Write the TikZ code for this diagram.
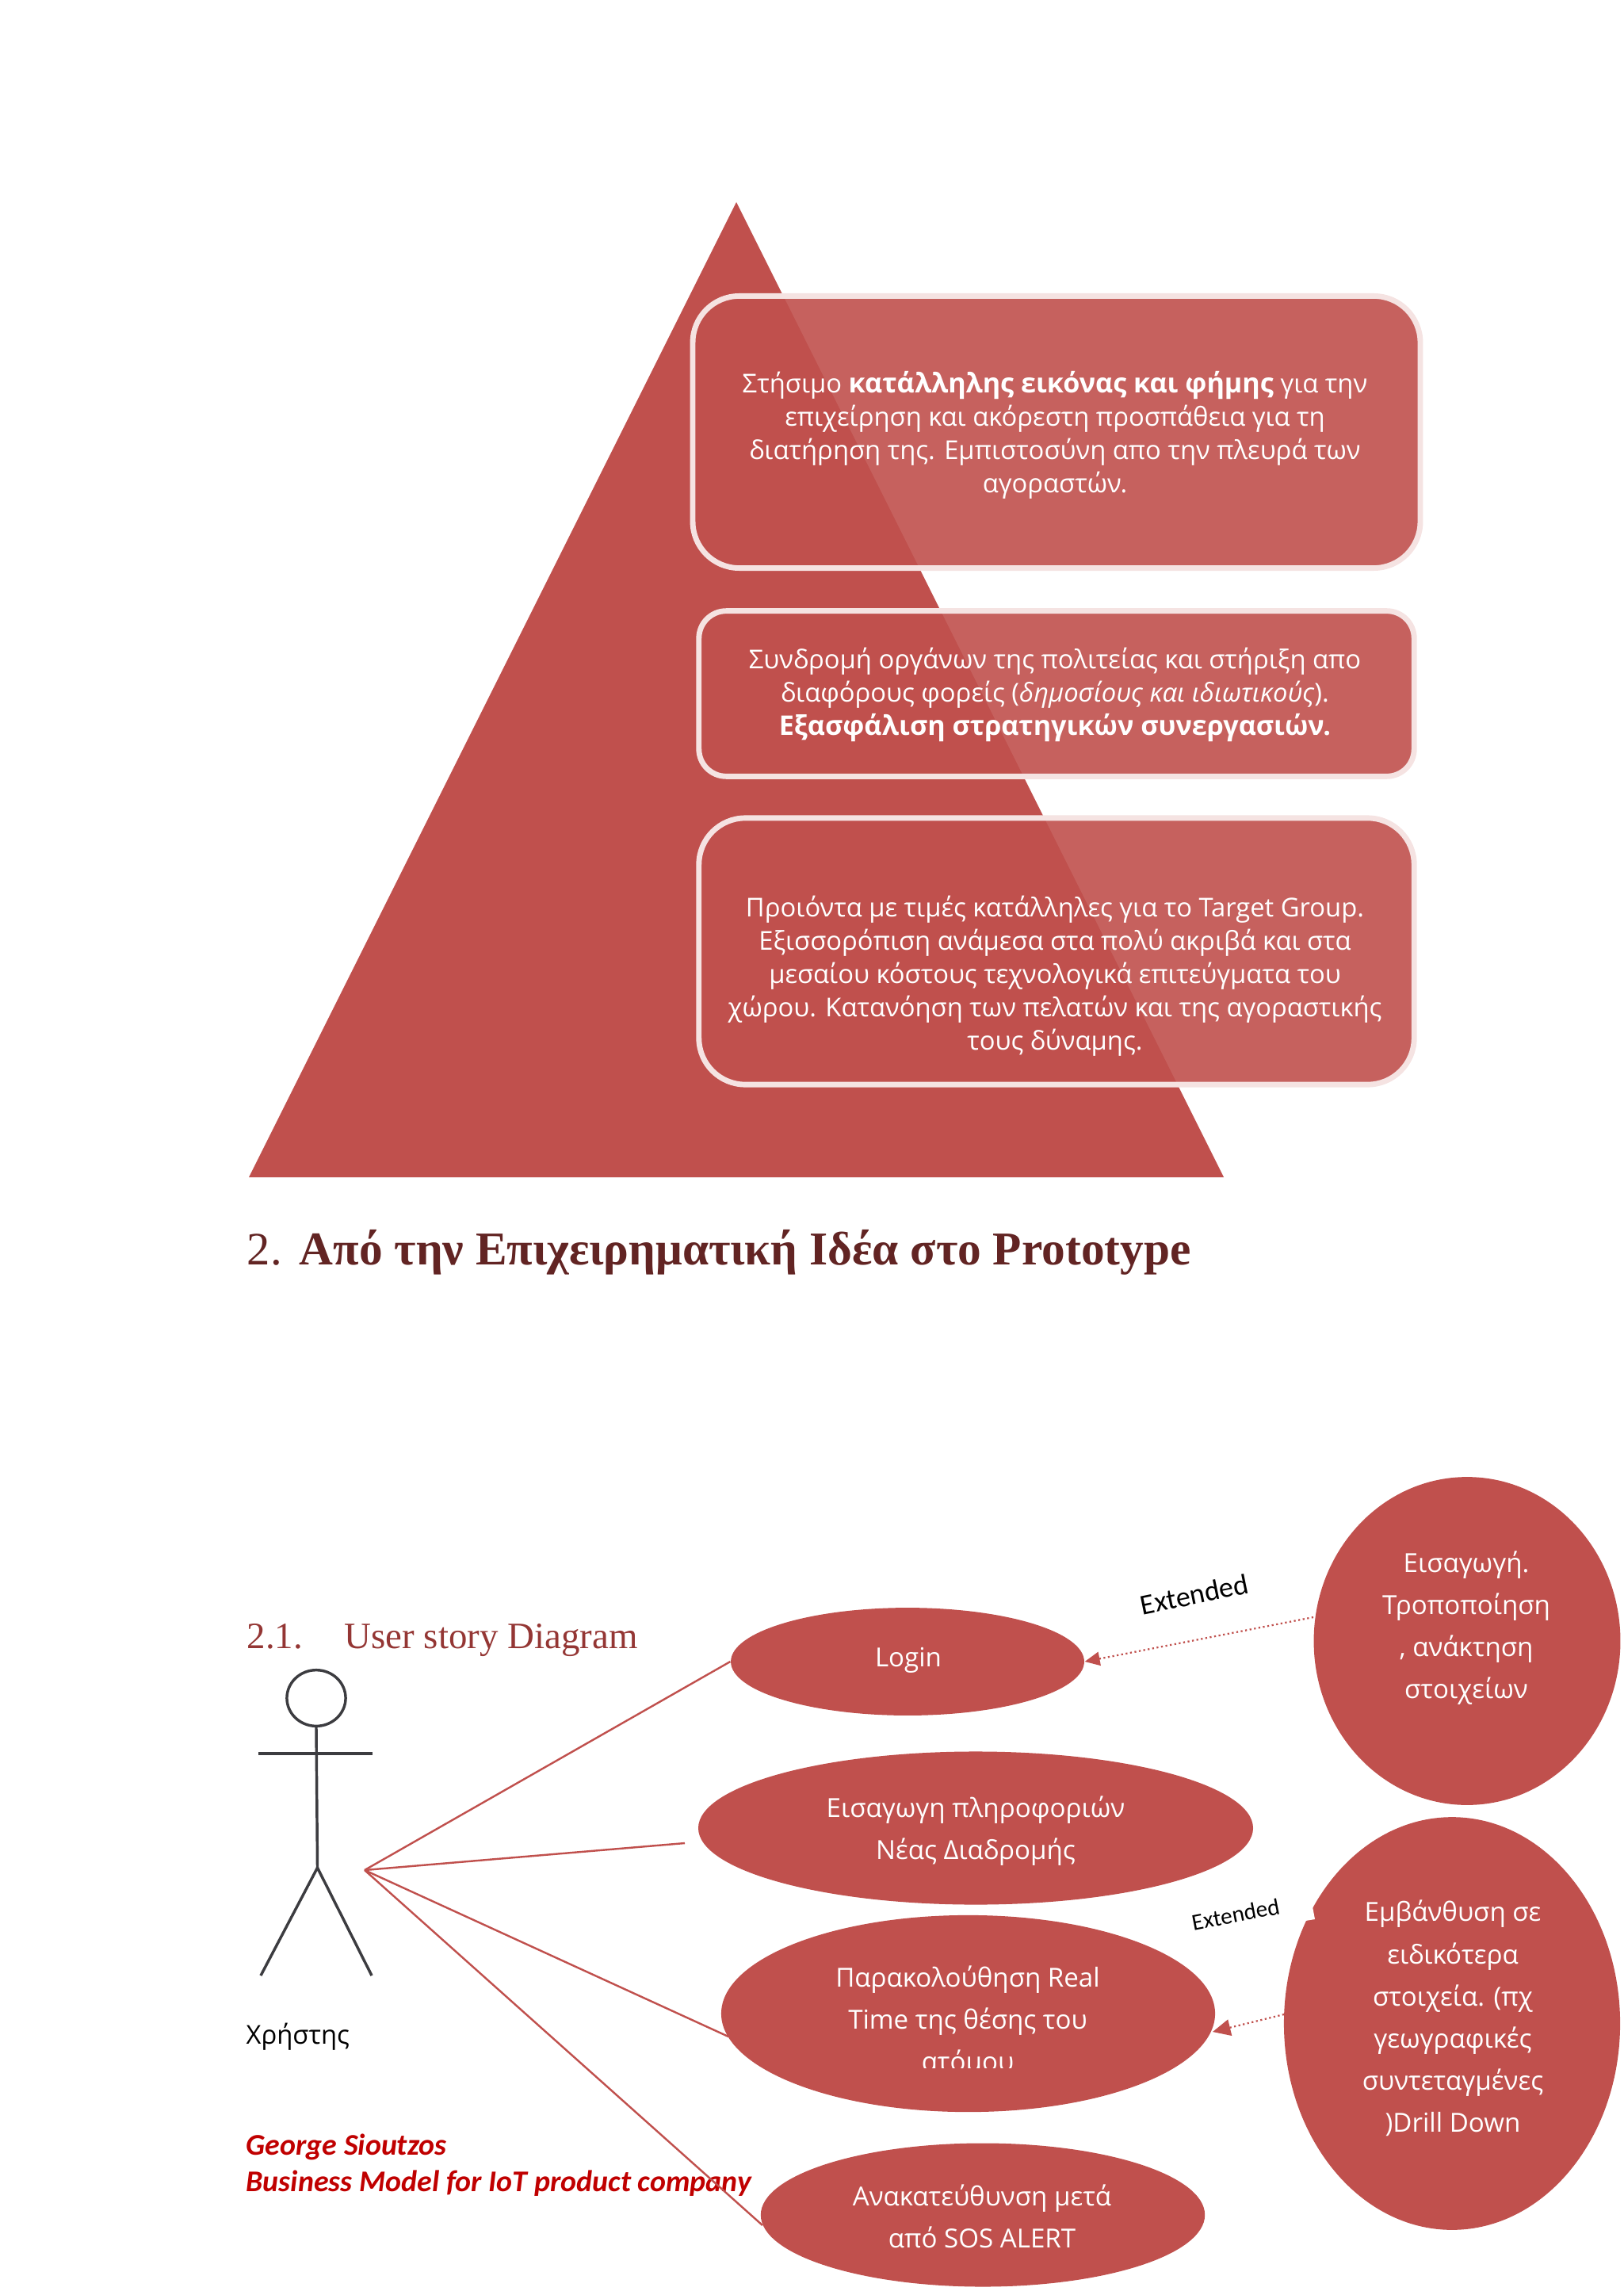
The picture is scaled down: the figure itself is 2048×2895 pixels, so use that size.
\documentclass[tikz,border=0pt]{standalone}
\usepackage{fontspec}
\setmainfont{Open Sans}
\newfontfamily\headfont{Liberation Serif}
\newfontfamily\labelfont{Carlito}
\usetikzlibrary{shapes.geometric,arrows.meta}
\definecolor{brick}{HTML}{C0504D}
\definecolor{pale}{HTML}{F5E3E2}
\definecolor{headdark}{HTML}{622423}
\definecolor{headmid}{HTML}{943634}
\definecolor{signred}{HTML}{C00000}
\definecolor{figure}{HTML}{3C3C40}
\newcommand{\panelbold}[1]{{\fontsize{9.9}{12.2}\selectfont\textbf{#1}}}
\tikzset{
  x=0.29pt,y=-0.29pt,
  panel/.style={rectangle,draw=pale,line width=2pt,fill=brick,fill opacity=.9,draw opacity=1,inner sep=0pt},
  paneltext/.style={text=white,align=center,font=\fontsize{9.5}{12.2}\selectfont,inner sep=0pt},
  blob/.style={ellipse,fill=brick,inner sep=0pt,text=white},
  blobtext/.style={text=white,align=center,font=\fontsize{9.6}{15.4}\selectfont,inner sep=0pt},
  fan/.style={draw=brick,line width=.7pt},
  extend/.style={draw=brick,line width=.65pt,densely dotted,-{Triangle[length=5.5pt,width=5pt,fill=brick]}},
  extendbig/.style={draw=brick,line width=.65pt,densely dotted,-{Triangle[length=6.5pt,width=6pt,fill=brick]}},
  extlabel/.style={font=\labelfont\fontsize{10.5}{12}\selectfont,text=black,inner sep=0pt},
  stick/.style={draw=figure,line width=1pt}
}
\begin{document}
\begin{tikzpicture}
\useasboundingbox (0,0) rectangle (2048,2895);
% pyramid
\fill[brick] (929,255) -- (1544,1485) -- (314,1485) -- cycle;
% panels
\node[panel,rounded corners=17pt,minimum width=266.2pt,minimum height=99.5pt] (p1) at (1333,545) {};
\node[panel,rounded corners=10pt,minimum width=261.7pt,minimum height=60.5pt] (p2) at (1333,875) {};
\node[panel,rounded corners=17pt,minimum width=261.7pt,minimum height=97.5pt] (p3) at (1333,1200) {};
\node[paneltext] (t1) at (1331,549) {Στήσιμο \panelbold{κατάλληλης εικόνας και φήμης} για την\\επιχείρηση και ακόρεστη προσπάθεια για τη\\διατήρηση της. Εμπιστοσύνη απο την πλευρά των\\αγοραστών.};
\node[paneltext] (t2) at (1331,876) {Συνδρομή οργάνων της πολιτείας και στήριξη απο\\διαφόρους φορείς (\textit{δημοσίους και ιδιωτικούς}).\\\panelbold{Εξασφάλιση στρατηγικών συνεργασιών.}};
\node[paneltext] (t3) at (1331,1231) {Προιόντα με τιμές κατάλληλες για το Target Group.\\Εξισσορόπιση ανάμεσα στα πολύ ακριβά και στα\\μεσαίου κόστους τεχνολογικά επιτεύγματα του\\χώρου. Κατανόηση των πελατών και της αγοραστικής\\τους δύναμης.};
% headings
\node[anchor=base west,inner sep=0pt,text=headdark,font=\headfont\fontsize{17}{20}\selectfont] (h2num) at (311,1595) {2.};
\node[anchor=base west,inner sep=0pt,text=headdark,font=\headfont\bfseries\fontsize{17.22}{20}\selectfont] (h2) at (377,1595) {Από την Επιχειρηματική Ιδέα στο Prototype};
\node[anchor=base west,inner sep=0pt,text=headmid,font=\headfont\fontsize{13.6}{16}\selectfont] (h21num) at (311,2079) {2.1.};
\node[anchor=base west,inner sep=0pt,text=headmid,font=\headfont\fontsize{13.6}{16}\selectfont] (h21) at (434,2079) {User story Diagram};
% stick figure
\node[ellipse,draw=figure,line width=1pt,minimum width=21.5pt,minimum height=20.5pt,inner sep=0pt] (head) at (399,2142) {};
\coordinate (hip) at (400.5,2356);
\coordinate (armL) at (326,2212);
\coordinate (armR) at (470,2212);
\coordinate (footL) at (329,2492);
\coordinate (footR) at (469,2492);
\draw[stick] (head.south) -- (hip);
\draw[stick] (armL) -- (armR);
\draw[stick] (footL) -- (hip) -- (footR);
\node[anchor=base west,inner sep=0pt,font=\fontsize{9.5}{12}\selectfont] (actor) at (310,2578) {Χρήστης};
\node[anchor=base west,inner sep=0pt,align=left,text=signred,font=\labelfont\bfseries\itshape\fontsize{11}{13.2}\selectfont] (sign) at (310,2718) {George Sioutzos};
\node[anchor=base west,inner sep=0pt,align=left,text=signred,font=\labelfont\bfseries\itshape\fontsize{11}{13.2}\selectfont] (sign2) at (310,2764) {Business Model for IoT product company};
% connectors from actor
\coordinate (hub) at (460,2359);
\coordinate (e2end) at (864,2325);
\coordinate (e3end) at (919,2569);
\coordinate (e4end) at (962,2807);
% use-case ellipses
\node[blob,minimum width=129.3pt,minimum height=39.4pt] (login) at (1145,2096) {};
\draw[fan] (hub) -- (login.west);
\draw[fan] (hub) -- (e2end);
\draw[fan] (hub) -- (e3end);
\draw[fan] (hub) -- (e4end);
\node[blob,minimum width=203pt,minimum height=56pt] (e2) at (1231,2306) {};
\node[blob,minimum width=180.7pt,minimum height=72pt] (e3) at (1221.5,2540) {};
\node[blob,minimum width=162.5pt,minimum height=52.5pt] (e4) at (1240,2794) {};
\node[blob,minimum width=112.2pt,minimum height=120pt] (c1) at (1851,2070) {};
\node[blob,minimum width=123pt,minimum height=151pt] (c2) at (1832,2552.5) {};
\fill[white] (1656,2405) -- (1659,2421) -- (1647,2423) -- (1630,2424) -- (1640,2400) -- cycle;
% ellipse texts
\node[blobtext] (tlogin) at (1146,2094.5) {Login};
\node[blobtext] (te2) at (1231,2310) {Εισαγωγη πληροφοριών\\Νέας Διαδρομής};
\begin{scope}
\clip (910,2419) rectangle (1533,2608);
\node[blobtext] (te3) at (1221,2550) {Παρακολούθηση Real\\Time της θέσης του\\ατόμου};
\end{scope}
\node[blobtext] (te4) at (1239,2796) {Ανακατεύθυνση μετά\\από SOS ALERT};
\node[blobtext] (tc1) at (1850,2053.5) {Εισαγωγή.\\Τροποποίηση\\, ανάκτηση\\στοιχείων};
\node[blobtext] (tc2) at (1833,2546) {Εμβάνθυση σε\\ειδικότερα\\στοιχεία. (πχ\\γεωγραφικές\\συντεταγμένες\\)Drill Down};
% extended arrows
\coordinate (c1out) at (1657,2040);
\coordinate (c2out) at (1620,2541);
\coordinate (e3in) at (1530,2563);
\draw[extend] (c1out) -- (login.east);
\draw[extendbig] (c2out) -- (e3in);
\node[extlabel,rotate=11.6] (x1) at (1507,2011) {Extended};
\node[extlabel,rotate=11,font=\labelfont\fontsize{8.5}{10}\selectfont] (x2) at (1559,2415) {Extended};
\end{tikzpicture}
\end{document}
